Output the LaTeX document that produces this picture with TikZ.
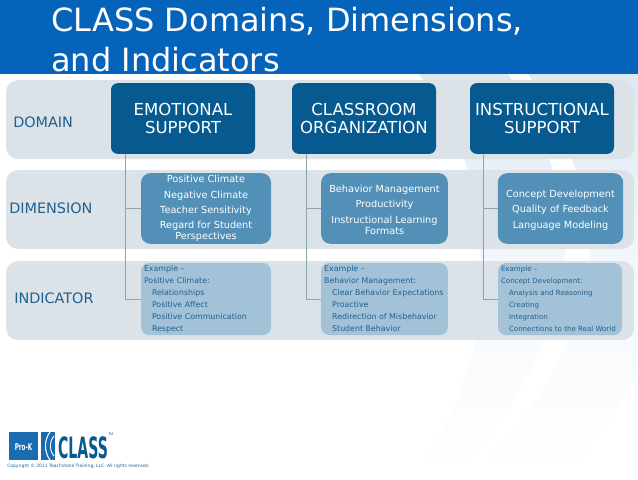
\documentclass[tikz,border=0pt]{standalone}
\usepackage{xcolor}
\usepackage{fontspec}
\setmainfont{DejaVu Sans}
\definecolor{titleblue}{HTML}{0563B9}
\definecolor{bandgrey}{HTML}{DCE3E8}
\definecolor{domainblue}{HTML}{065A8F}
\definecolor{dimblue}{HTML}{5290B8}
\definecolor{indblue}{HTML}{A3C2D8}
\definecolor{inktext}{HTML}{1F608F}
\definecolor{linkgrey}{HTML}{8FA3AF}
\definecolor{logoblue}{HTML}{1A6CB0}
\definecolor{swoosh}{HTML}{DDE8F3}
\tikzset{
  bandbox/.style={fill=bandgrey,rounded corners=9pt},
  swooshfill/.style={top color=swoosh,bottom color=white,middle color=swoosh!30!white},
  domainbox/.style={fill=domainblue,rounded corners=5pt,minimum width=108pt,minimum height=53pt,inner sep=0pt,text=white,align=center,font=\fontsize{12.4}{14}\selectfont},
  dimbox/.style={fill=dimblue,rounded corners=7pt,minimum height=53pt,inner sep=0pt,text=white,align=center,font=\fontsize{7.3}{8.2}\selectfont},
  indbox/.style={fill=indblue,rounded corners=6pt,minimum height=54pt,inner sep=0pt},
  indtext/.style={anchor=west,inner sep=0pt,text=inktext,align=left,font=\fontsize{5.9}{9}\selectfont},
  bandlabel/.style={anchor=west,inner sep=0.75pt,text=inktext,font=\fontsize{10.8}{12}\selectfont},
  link/.style={draw=linkgrey,line width=0.6pt}
}
\begin{document}
\begin{tikzpicture}[x=0.75pt,y=0.75pt,yscale=-1,xscale=1]
\useasboundingbox (0,0) rectangle (638,479);

%Background swooshes
\shade [swooshfill] (418,74) .. controls (470,130) and (490,230) .. (475,340) .. controls (465,390) and (440,440) .. (412,479) -- (455,479) .. controls (500,430) and (560,340) .. (565,250) .. controls (565,190) and (540,120) .. (508,74) -- cycle;
\shade [swooshfill] (528,74) .. controls (560,120) and (590,190) .. (590,250) .. controls (585,340) and (530,420) .. (470,479) -- (560,479) .. controls (600,440) and (625,400) .. (638,370) -- (638,74) -- cycle;

%Title band
\fill [titleblue] (0,0) rectangle (638,74);
\draw (50,6) node [anchor=north west][inner sep=0.75pt][align=left][text=white][font=\fontsize{24}{30}\selectfont] (title) {CLASS Domains, Dimensions,\\and Indicators};

%Bands
\fill [bandbox] (6,80) rectangle (634,159);
\fill [bandbox] (6,170) rectangle (634,249);
\fill [bandbox] (6,261) rectangle (634,340);

% Band labels
\node [bandlabel] (domainlabel) at (12,122.5) {DOMAIN};
\node [bandlabel] (dimensionlabel) at (8,208) {DIMENSION};
\node [bandlabel] (indicatorlabel) at (13,298) {INDICATOR};

% Domain row
\node [domainbox] (emotional) at (183,118.5) {EMOTIONAL\\SUPPORT};
\node [domainbox] (classroom) at (364,118.5) {CLASSROOM\\ORGANIZATION};
\node [domainbox] (instructional) at (542,118.5) {INSTRUCTIONAL\\SUPPORT};

% Dimension row
\node [dimbox,minimum width=97.5pt] (climate) at (206,208.5) {Positive Climate\\[3.2pt]Negative Climate\\[3.2pt]Teacher Sensitivity\\[3.2pt]Regard for Student\\Perspectives};
\node [dimbox,minimum width=95pt] (behavior) at (384.5,208.5) {\rule{0pt}{7pt}Behavior Management\\[3.5pt]Productivity\\[3.5pt]Instructional Learning\\Formats};
\node [dimbox,minimum width=94pt] (concept) at (560.5,208.5) {\rule{0pt}{8pt}Concept Development\\[3.5pt]Quality of Feedback\\[3.5pt]Language Modeling};

% Indicator row
\node [indbox,minimum width=97.5pt] (climateind) at (206,299) {};
\node [indbox,minimum width=95pt] (behaviorind) at (384.5,299) {};
\node [indbox,minimum width=93pt] (conceptind) at (560,299) {};
\draw (climateind.west) ++(3,0) node [indtext] (climatetext) {Example --\\Positive Climate:\\\hspace{6pt}Relationships\\\hspace{6pt}Positive Affect\\\hspace{6pt}Positive Communication\\\hspace{6pt}Respect};
\draw (behaviorind.west) ++(3,0) node [indtext] (behaviortext) {Example --\\Behavior Management:\\\hspace{6pt}Clear Behavior Expectations\\\hspace{6pt}Proactive\\\hspace{6pt}Redirection of Misbehavior\\\hspace{6pt}Student Behavior};
\draw (conceptind.west) ++(3,0) node [indtext,font=\fontsize{5.3}{9}\selectfont] (concepttext) {Example --\\Concept Development:\\\hspace{6pt}Analysis and Reasoning\\\hspace{6pt}Creating\\\hspace{6pt}Integration\\\hspace{6pt}Connections to the Real World};

%Connectors
\coordinate (trunkone) at (125,299);
\coordinate (trunktwo) at (306,299);
\coordinate (trunkthree) at (483,299);
\draw [link] (trunkone |- emotional.south) |- (climate.west);
\draw [link] (trunkone |- emotional.south) |- (climateind.west);
\draw [link] (trunktwo |- classroom.south) |- (behavior.west);
\draw [link] (trunktwo |- classroom.south) |- (behaviorind.west);
\draw [link] (trunkthree |- instructional.south) |- (concept.west);
\draw [link] (trunkthree |- instructional.south) |- (conceptind.west);

%Logo
\fill [logoblue] (9,432) rectangle (38,460);
\node [text=white,inner sep=0pt,font=\fontsize{7}{8}\bfseries\selectfont,xscale=0.6] (prek) at (23.5,447) {Pro-K};
\fill [logoblue] (41,432) rectangle (55,460);
\draw [white,line width=0.8pt] (50,432) .. controls (44,440) and (44,452) .. (50,460);
\draw [white,line width=0.7pt] (54,436) .. controls (49,442) and (49,450) .. (54,456);
\node [anchor=west,inner sep=0pt,text=domainblue,font=\fontsize{22}{22}\bfseries\selectfont,xscale=0.48] (classlogo) at (58,447.5) {CLASS};
\node [anchor=north west,inner sep=0pt,text=domainblue,font=\fontsize{2.5}{3}\selectfont] (tm) at (108,433) {TM};
\node [anchor=west,inner sep=0pt,text=inktext,font=\fontsize{3.35}{4}\selectfont] (copyright) at (7,466.5) {Copyright © 2011 Teachstone Training, LLC. All rights reserved.};
\end{tikzpicture}
\end{document}
